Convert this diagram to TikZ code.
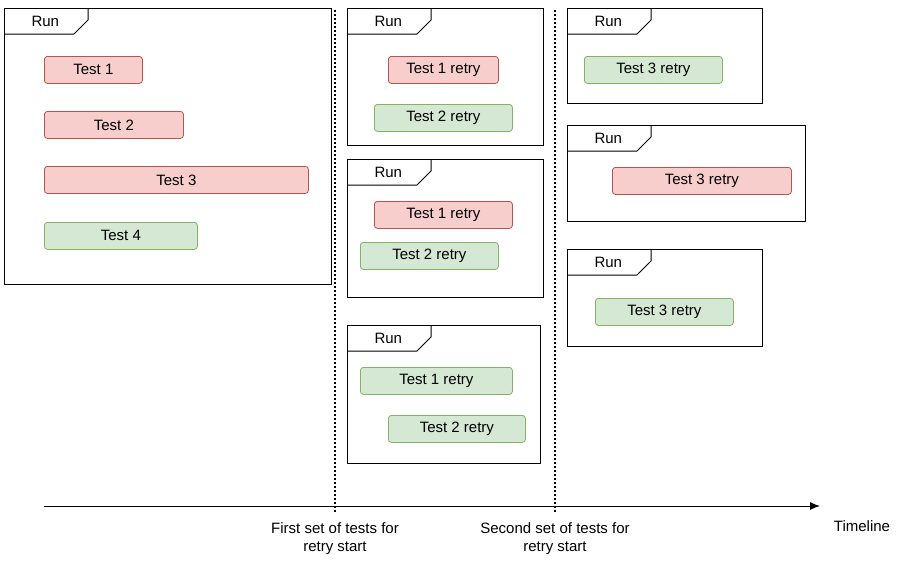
\documentclass[tikz,border=0pt]{standalone}
\usepackage{fontspec}
\setmainfont{Liberation Sans}
\usetikzlibrary{arrows.meta, positioning}
\definecolor{redfill}{HTML}{F8CECC}
\definecolor{redline}{HTML}{B85450}
\definecolor{greenfill}{HTML}{D5E8D4}
\definecolor{greenline}{HTML}{82B366}
\tikzset{
		run frame/.style={draw, line width=1pt, anchor=north west, inner sep=0pt},
		test/.style={draw, rounded corners=3pt, line width=0.8pt, inner sep=0pt, anchor=north west, font=\fontsize{15}{18}\selectfont},
		failed/.style={test, fill=redfill, draw=redline},
		passed/.style={test, fill=greenfill, draw=greenline},
		phase/.style={dotted, line width=2pt},
		caption/.style={align=center, font=\fontsize{15}{18}\selectfont}
	}
% frame with its "Run" tab: name, left, top, width, height
\newcommand{\runbox}[5]{
	\node[run frame, minimum width=#4pt, minimum height=#5pt] (#1) at (#2,#3) {};
	\draw[line width=1pt] (#1.north west) ++(0,26) -- ++(70,0) -- ++(14,-14) -- ++(0,-12);
	\node[anchor=west, font=\fontsize{15}{18}\selectfont] (#1-tab) at ([xshift=24pt,yshift=-13pt]#1.north west) {Run};
}
\newcommand{\testbox}[6]{
	\node[#2, minimum width=#5pt, minimum height=27pt] (#1) at (#3,#4) {#6};
}
\begin{document}
\begin{tikzpicture}[x=1pt, y=-1pt]
	\useasboundingbox (0,0) rectangle (900,560);

	\runbox{runA}{4}{8}{327}{276}
	\testbox{a1}{failed}{44}{56}{98}{Test 1}
	\testbox{a2}{failed}{44}{111}{139}{Test 2}
	\testbox{a3}{failed}{44}{166}{264}{Test 3}
	\testbox{a4}{passed}{44}{222}{153}{Test 4}

	\runbox{runB}{347}{8}{196}{137}
	\testbox{b1}{failed}{388}{56}{110}{Test 1 retry}
	\testbox{b2}{passed}{374}{104}{138}{Test 2 retry}

	\runbox{runC}{347}{159}{196}{138}
	\testbox{c1}{failed}{374}{201}{138}{Test 1 retry}
	\testbox{c2}{passed}{360}{242}{138}{Test 2 retry}

	\runbox{runD}{347}{325}{193}{138}
	\testbox{d1}{passed}{360}{367}{152}{Test 1 retry}
	\testbox{d2}{passed}{388}{415}{137}{Test 2 retry}

	\runbox{runE}{567}{8}{195}{95}
	\testbox{e1}{passed}{584}{56}{138}{Test 3 retry}

	\runbox{runF}{567}{125}{238}{96}
	\testbox{f1}{failed}{612}{167}{179}{Test 3 retry}

	\runbox{runG}{567}{249}{195}{97}
	\testbox{g1}{passed}{595}{298}{138}{Test 3 retry}

	% timeline and phase markers
	\coordinate (t0) at (44,506);
	\coordinate (t1) at (820,506);
	\draw[line width=1pt, -{Latex[length=10pt, width=8pt]}] (t0) -- (t1);
	\node[caption] (timeline) at (862,526) {Timeline};

	\coordinate (p1top) at (335,10);
	\coordinate (p1bot) at (335,512);
	\coordinate (p2top) at (555,10);
	\coordinate (p2bot) at (555,512);
	\draw[phase] (p1top) -- (p1bot);
	\draw[phase] (p2top) -- (p2bot);
	\node[caption] (first) at (335,539) {First set of tests for\\retry start};
	\node[caption] (second) at (555,539) {Second set of tests for\\retry start};
\end{tikzpicture}
\end{document}
